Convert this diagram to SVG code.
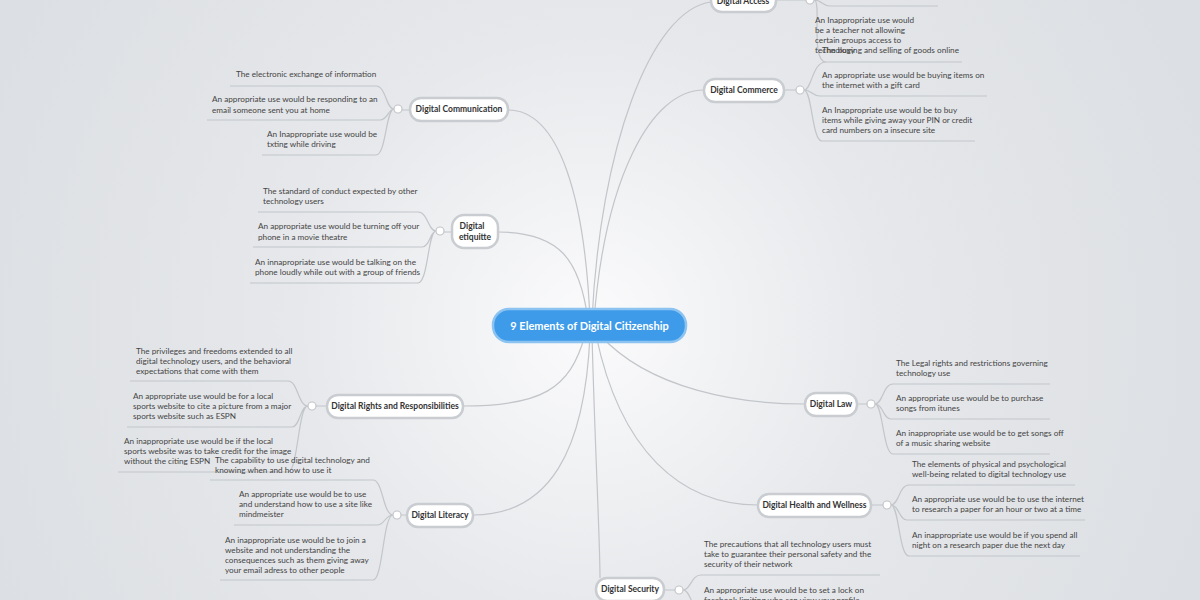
<svg xmlns="http://www.w3.org/2000/svg" width="1200" height="600" viewBox="0 0 1200 600">
<defs>
<radialGradient id="bg" cx="590" cy="325" r="650" gradientUnits="userSpaceOnUse">
<stop offset="0" stop-color="#fbfbfc"/><stop offset="0.45" stop-color="#e6e8eb"/><stop offset="1" stop-color="#dcdfe3"/>
</radialGradient>
<style>
.c{fill:none;stroke:#c2c5c9;stroke-width:1.2}
.n rect{fill:#fff;stroke:#c9ccd0;stroke-width:2.5}
.n text{font-family:"Lato","Liberation Sans",sans-serif;font-weight:bold;font-size:8.5px;fill:#333;text-anchor:middle}
.j{fill:#fff;stroke:#c2c5c9;stroke-width:1.2}
.l{font-family:"Lato","Liberation Sans",sans-serif;font-size:8.2px;fill:#444}
</style>
</defs>
<rect width="1200" height="600" fill="url(#bg)"/>
<g id="connectors">
<path class="c" d="M590,320 C585,200 560,110 508,110"/>
<path class="c" d="M588,320 C580,260 560,232 498,232"/>
<path class="c" d="M585,335 C570,390 540,406 463,406"/>
<path class="c" d="M590,335 C585,450 550,515 473,515"/>
<path class="c" d="M592,320 C600,150 650,10 711,2"/>
<path class="c" d="M594,320 C605,180 650,90 704,90"/>
<path class="c" d="M600,335 C650,390 740,404 805,404"/>
<path class="c" d="M596,335 C620,450 680,505 758,505"/>
<path class="c" d="M592,335 C595,450 600,540 600,578"/>
<path class="c" d="M508,110 H394 M473,515 H393 M463,406 H308 M498,232 H436 M776,0 H814 M784,90 H804 M857,404 H875 M871,505 H891 M664,590 H683"/>
<path class="c" d="M394,109 C386,109 386,86 376,86 H230 M394,109 C388,109 388,120 380,120 H207 M394,109 C386,109 386,155 376,155 H262"/>
<path class="c" d="M436,231 C428,231 428,212 418,212 H258 M436,231 C430,231 430,247 422,247 H253 M436,231 C428,231 428,283 418,283 H250"/>
<path class="c" d="M308,406 C298,406 298,381 288,381 H130 M308,406 C300,406 300,427 292,427 H127 M308,406 C298,406 298,472 288,472 H118"/>
<path class="c" d="M393,515 C383,515 383,480 373,480 H210 M393,515 C385,515 385,525 377,525 H234 M393,515 C383,515 383,580 373,580 H220"/>
<path class="c" d="M814,0 C822,0 822,6 830,6 H938 M814,0 C822,0 810,62 826,62 H962"/>
<path class="c" d="M804,90 C812,90 812,62 826,62 M804,90 C812,90 812,96 820,96 H987 M804,90 C812,90 812,141 822,141 H975"/>
<path class="c" d="M875,404 C883,404 883,384 893,384 H1050 M875,404 C883,404 883,419 891,419 H1050 M875,404 C883,404 883,454 893,454 H1050"/>
<path class="c" d="M891,505 C899,505 899,485 909,485 H1075 M891,505 C899,505 899,520 907,520 H1085 M891,505 C899,505 899,556 909,556 H1080"/>
<path class="c" d="M683,590 C691,590 691,575 701,575 H880 M683,590 C691,590 691,610 701,610 H880"/>
<circle class="j" cx="398" cy="109" r="4"/><circle class="j" cx="440" cy="231" r="4"/>
<circle class="j" cx="312" cy="406" r="4"/><circle class="j" cx="397" cy="515" r="4"/>
<circle class="j" cx="810" cy="0" r="4"/><circle class="j" cx="800" cy="90" r="4"/>
<circle class="j" cx="871" cy="404" r="4"/><circle class="j" cx="887" cy="505" r="4"/>
<circle class="j" cx="679" cy="590" r="4"/>
</g>
<g id="root"><rect x="493" y="309" width="193" height="33" rx="16" fill="#3d9be9" stroke="#8cc3f1" stroke-width="2.5"/>
<text x="589.5" y="329.5" font-family="Lato,'Liberation Sans',sans-serif" font-weight="bold" font-size="11" fill="#fff" text-anchor="middle">9 Elements of Digital Citizenship</text></g>
<g id="comm" class="n"><rect x="410" y="98" width="98" height="23" rx="11"/><text x="459" y="112">Digital Communication</text></g>
<g id="etiq" class="n"><rect x="452" y="215" width="46" height="33" rx="12"/><text x="472" y="229">Digital</text><text x="475" y="240">etiquitte</text></g>
<g id="rights" class="n"><rect x="327" y="395" width="136" height="23" rx="11"/><text x="395" y="409">Digital Rights and Responsibilities</text></g>
<g id="literacy" class="n"><rect x="407" y="504" width="66" height="23" rx="11"/><text x="440" y="518">Digital Literacy</text></g>
<g id="access" class="n"><rect x="711" y="-10" width="65" height="22" rx="11"/><text x="743" y="4">Digital Access</text></g>
<g id="commerce" class="n"><rect x="704" y="79" width="80" height="23" rx="11"/><text x="744" y="93">Digital Commerce</text></g>
<g id="law" class="n"><rect x="805" y="393" width="52" height="23" rx="11"/><text x="831" y="407">Digital Law</text></g>
<g id="health" class="n"><rect x="758" y="494" width="113" height="23" rx="11"/><text x="814.5" y="508">Digital Health and Wellness</text></g>
<g id="security" class="n"><rect x="596" y="578" width="68" height="23" rx="11"/><text x="630" y="592">Digital Security</text></g>
<g id="leaves" class="l">
<text x="236" y="77">The electronic exchange of information</text>
<text x="212" y="102">An appropriate use would be responding to an</text><text x="212" y="113">email someone sent you at home</text>
<text x="267" y="137">An Inappropriate use would be</text><text x="267" y="147">txting while driving</text>
<text x="263" y="194">The standard of conduct expected by other</text><text x="263" y="204">technology users</text>
<text x="258" y="229">An appropriate use would be turning off your</text><text x="258" y="240">phone in a movie theatre</text>
<text x="255" y="265">An innapropriate use would be talking on the</text><text x="255" y="275">phone loudly while out with a group of friends</text>
<text x="136" y="354">The privileges and freedoms extended to all</text><text x="136" y="364">digital technology users, and the behavioral</text><text x="136" y="374">expectations that come with them</text>
<text x="133" y="399">An appropriate use would be for a local</text><text x="133" y="409">sports website to cite a picture from a major</text><text x="133" y="419">sports website such as ESPN</text>
<text x="124" y="444">An inappropriate use would be if the local</text><text x="124" y="454">sports website was to take credit for the image</text><text x="124" y="464">without the citing ESPN</text>
<text x="215" y="463">The capability to use digital technology and</text><text x="215" y="473">knowing when and how to use it</text>
<text x="239" y="497">An appropriate use would be to use</text><text x="239" y="507">and understand how to use a site like</text><text x="239" y="517">mindmeister</text>
<text x="225" y="543">An inappropriate use would be to join a</text><text x="225" y="553">website and not understanding the</text><text x="225" y="563">consequences such as them giving away</text><text x="225" y="573">your email adress to other people</text>
<text x="815" y="23">An Inappropriate use would</text><text x="815" y="33">be a teacher not allowing</text><text x="815" y="43">certain groups access to</text><text x="815" y="53">technology</text>
<text x="822" y="53">The buying and selling of goods online</text>
<text x="822" y="78">An appropriate use would be buying items on</text><text x="822" y="88">the internet with a gift card</text>
<text x="822" y="113">An Inappropriate use would be to buy</text><text x="822" y="123">items while giving away your PIN or credit</text><text x="822" y="133">card numbers on a insecure site</text>
<text x="896" y="366">The Legal rights and restrictions governing</text><text x="896" y="376">technology use</text>
<text x="896" y="401">An appropriate use would be to purchase</text><text x="896" y="411">songs from itunes</text>
<text x="896" y="436">An inappropriate use would be to get songs off</text><text x="896" y="446">of a music sharing website</text>
<text x="912" y="467">The elements of physical and psychological</text><text x="912" y="477">well-being related to digital technology use</text>
<text x="912" y="502">An appropriate use would be to use the internet</text><text x="912" y="512">to research a paper for an hour or two at a time</text>
<text x="912" y="538">An inappropriate use would be if you spend all</text><text x="912" y="548">night on a research paper due the next day</text>
<text x="704" y="547">The precautions that all technology users must</text><text x="704" y="557">take to guarantee their personal safety and the</text><text x="704" y="567">security of their network</text>
<text x="704" y="593">An appropriate use would be to set a lock on</text><text x="704" y="603">facebook limiting who can view your profile</text>
</g>
</svg>
